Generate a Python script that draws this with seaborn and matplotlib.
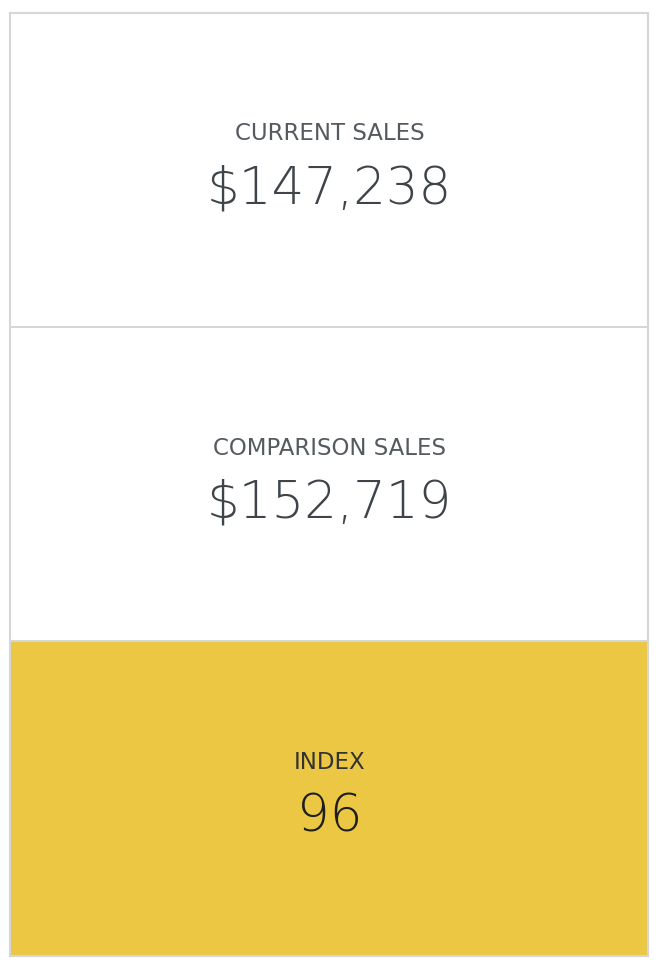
import matplotlib
matplotlib.use("Agg")
import matplotlib.pyplot as plt
import seaborn as sns
import numpy as np
from matplotlib.colors import ListedColormap

labels = ["CURRENT SALES", "COMPARISON SALES", "INDEX"]
values = ["$147,238", "$152,719", "96"]
highlight = [0, 0, 1]

sns.set_theme(style="white")
plt.rcParams['font.family'] = ['DejaVu Sans']

fig = plt.figure(figsize=(6.66, 9.70), dpi=100)
ax = fig.add_axes([10.5/666, 1-956.5/970, 638/666, 943/970])
data = np.array(highlight).reshape(-1, 1)
sns.heatmap(data, ax=ax, cmap=ListedColormap(["#ffffff", "#EBC744"]), vmin=0, vmax=1,
            cbar=False, linewidths=1.2, linecolor="#d6d6d6", xticklabels=False, yticklabels=False)
for s in ax.spines.values():
    s.set_visible(True)
    s.set_color("#d6d6d6")
    s.set_linewidth(1.5)

for i, (lab, val, h) in enumerate(zip(labels, values, highlight)):
    col_l = "#333333" if h else "#555a61"
    col_v = "#1e1e1e" if h else "#3f444b"
    ax.text(0.5, i + 0.383, lab, ha="center", va="center", fontsize=16.5, color=col_l)
    ax.text(0.5, i + 0.558, val, ha="center", va="center", fontsize=37, color=col_v,
            fontweight="light")

fig.savefig("out.png", dpi=100)
